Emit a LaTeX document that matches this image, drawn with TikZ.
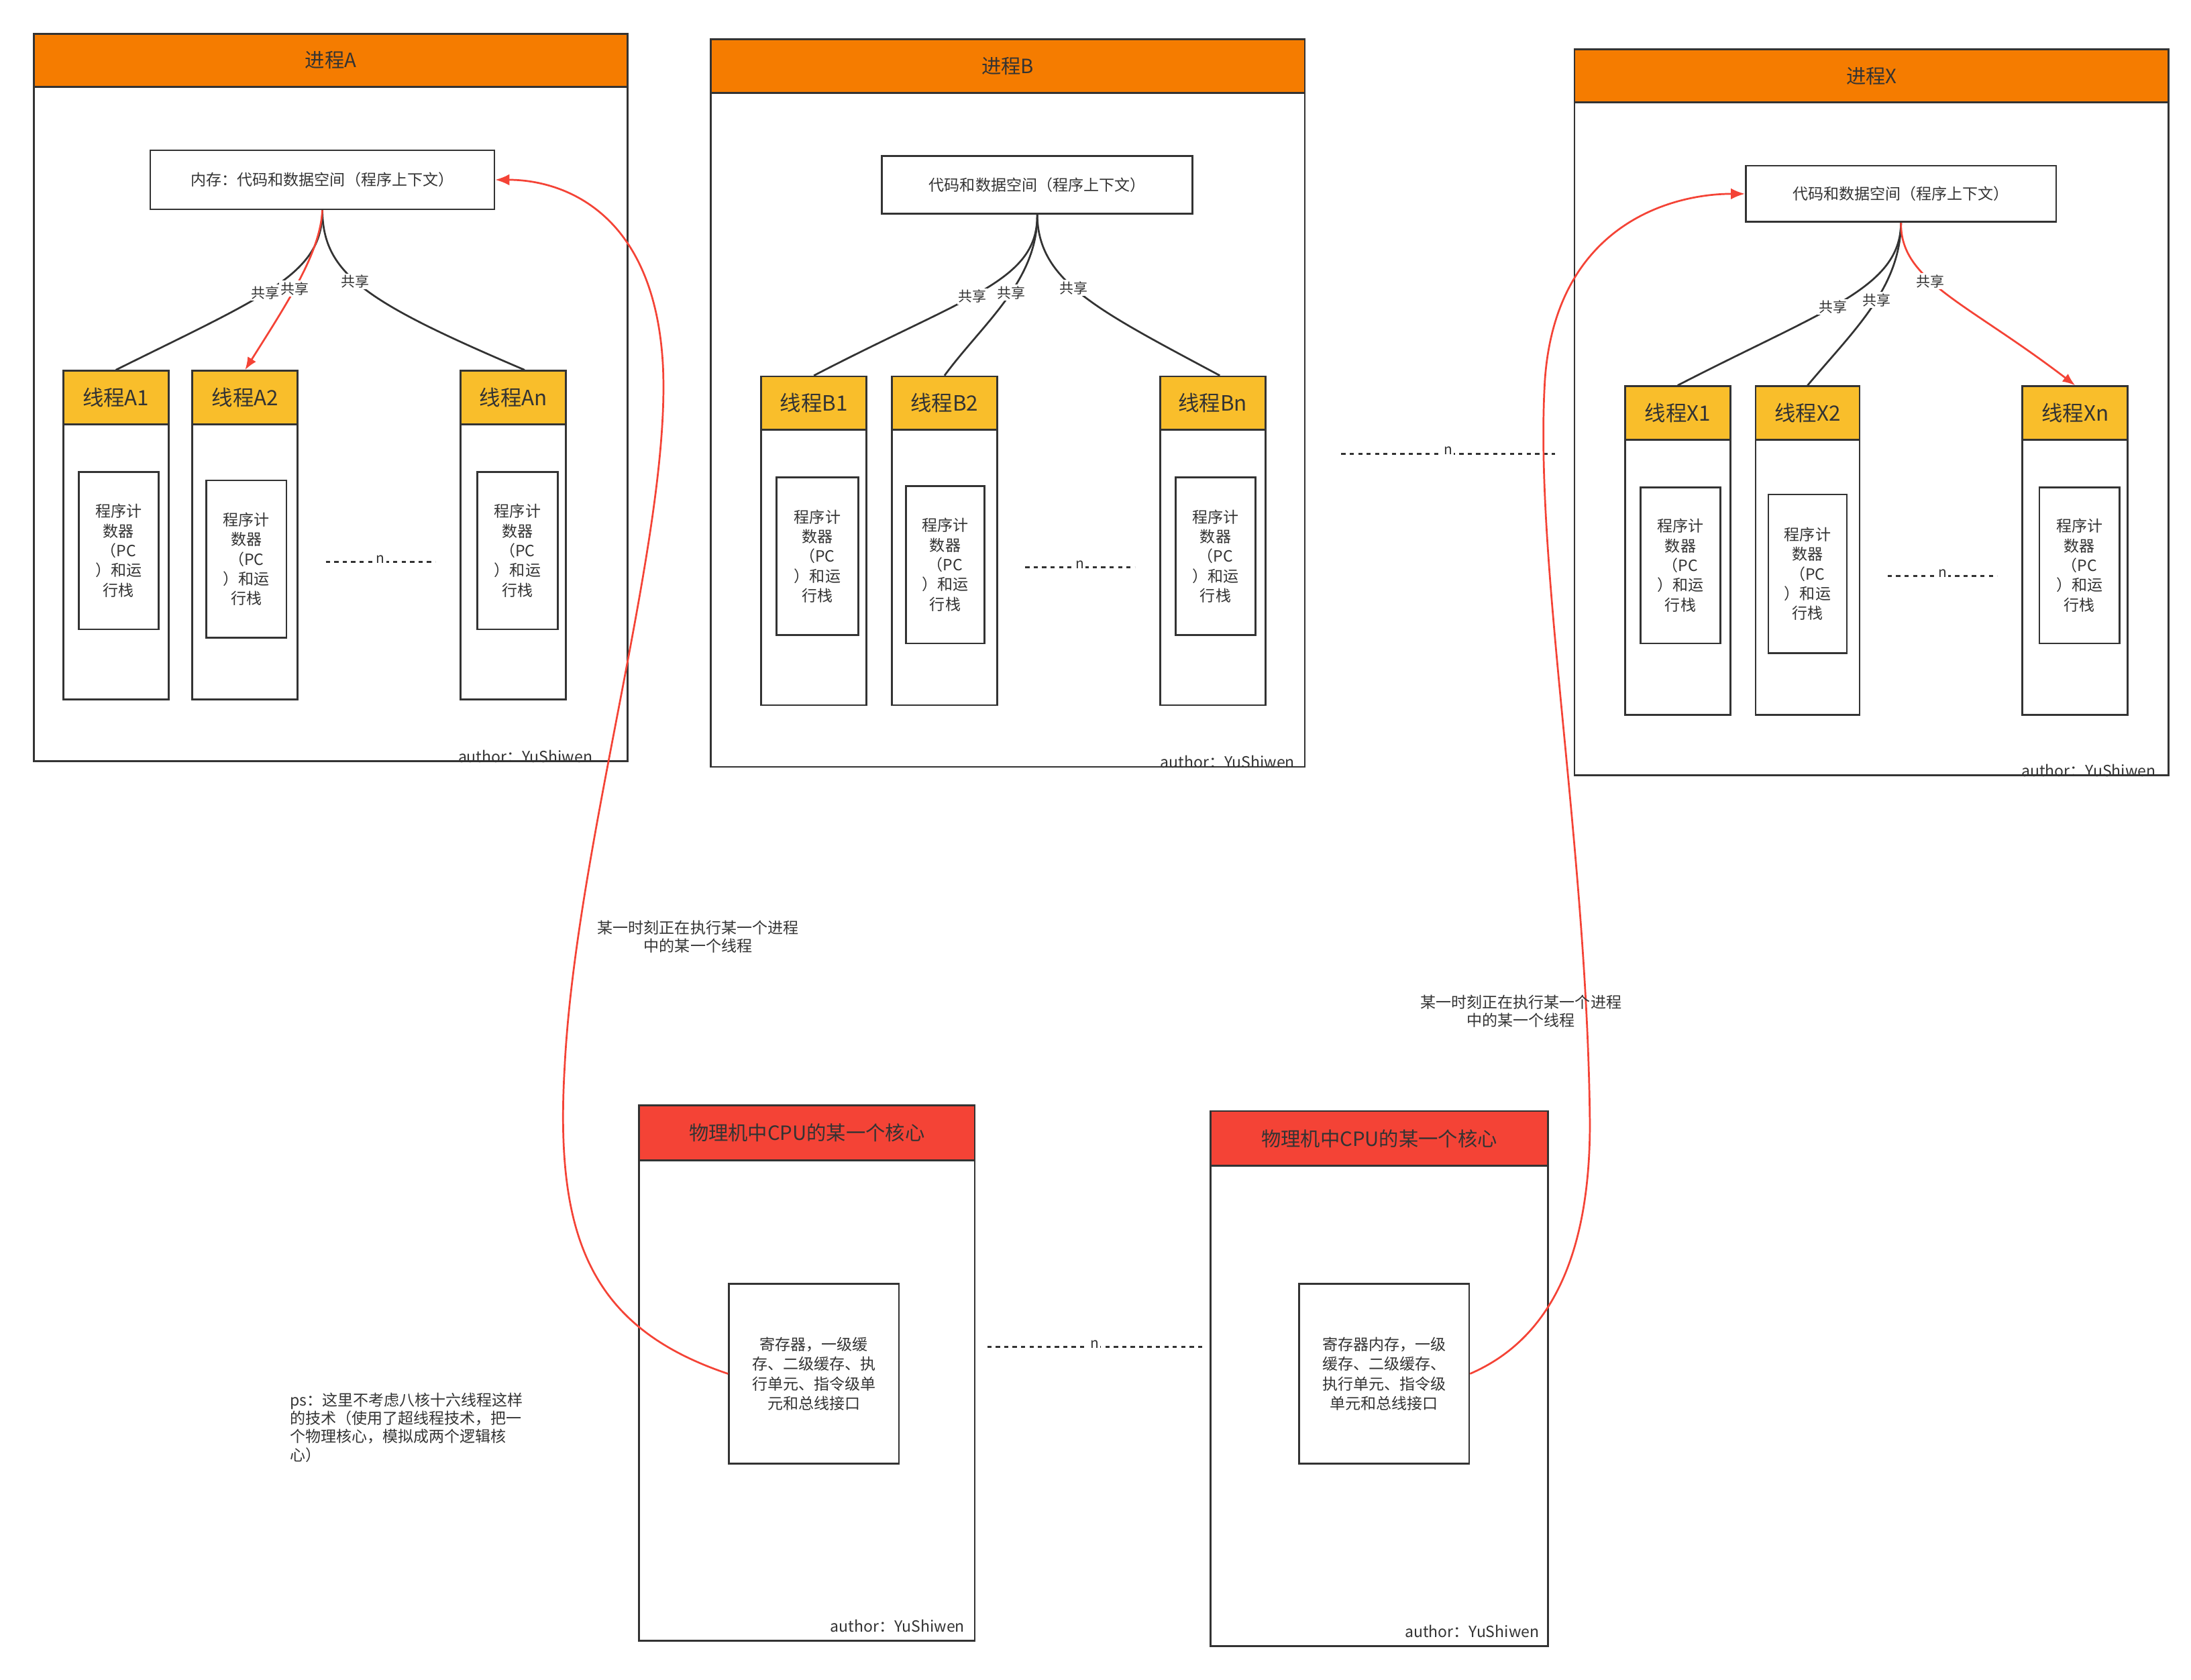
\documentclass[tikz,border=0pt]{standalone}
\usepackage{fontspec}
\setmainfont{Noto Sans CJK SC}
\usetikzlibrary{arrows.meta}
\definecolor{ln}{HTML}{333333}
\definecolor{orng}{HTML}{F57C00}
\definecolor{yel}{HTML}{F9BE2B}
\definecolor{rd}{HTML}{F44336}
\newcommand\bx[7]{\node[#6,minimum width={(#4-#2)*1pt},minimum height={(#5-#3)*1pt}] (#1) at ({(#2+#4)/2},{(#3+#5)/2}) {#7};}
\tikzset{
 base/.style={draw=ln,line width=1.3pt,inner sep=0pt,text=ln},
 body/.style={base,fill=white},
 phead/.style={base,fill=orng,font=\fontsize{14}{16}\selectfont},
 thead/.style={base,fill=yel,font=\fontsize{15}{17}\selectfont},
 chead/.style={base,fill=rd,font=\fontsize{14}{16}\selectfont},
 mem/.style={base,font=\fontsize{11}{13}\selectfont},
 inbox/.style={base,font=\fontsize{11}{14}\selectfont,align=center},
 auth/.style={text=ln,font=\fontsize{11}{13}\selectfont,anchor=south east,inner sep=1pt},
 share/.style={draw=ln,line width=1.3pt},
 redln/.style={draw=rd,line width=1.3pt},
 lbl/.style={fill=white,inner sep=1pt,text=ln,font=\fontsize{10}{12}\selectfont},
 dots/.style={draw=ln,line width=1.3pt,dash pattern=on 3pt off 3pt},
 note/.style={text=ln,font=\fontsize{11}{13}\selectfont,align=center},
}
\begin{document}
\begin{tikzpicture}[x=1pt,y=-1pt]
\useasboundingbox (0,0) rectangle (1560,1196);
% Process A
\bx{pA}{24}{24}{447}{542}{body}{}
\bx{pAh}{24}{24}{447}{62}{phead}{进程A}
\node[auth] (auA) at (423,544) {author：YuShiwen};
\bx{memA}{107}{107}{352}{149}{mem}{内存：代码和数据空间（程序上下文）}
\bx{A1}{45}{264}{120}{498}{body}{}\bx{A1h}{45}{264}{120}{302}{thead}{线程A1}
\bx{A2}{137}{264}{212}{498}{body}{}\bx{A2h}{137}{264}{212}{302}{thead}{线程A2}
\bx{An}{328}{264}{403}{498}{body}{}\bx{Anh}{328}{264}{403}{302}{thead}{线程An}
\bx{iA1}{56}{336}{113}{448}{inbox}{程序计\\数器\\（PC\\）和运\\行栈}
\bx{iA2}{147}{342}{204}{454}{inbox}{程序计\\数器\\（PC\\）和运\\行栈}
\bx{iAn}{340}{336}{397}{448}{inbox}{程序计\\数器\\（PC\\）和运\\行栈}
\coordinate (dA1) at (232,400);\coordinate (dA2) at (310,400);
\draw[dots] (dA1) -- node[lbl,fill=white,yshift=2pt]{n} (dA2);
\draw[share] (memA.south) .. controls (230,195) and (190,210) .. node[lbl,pos=0.55]{共享} (A1h.north);
\draw[share] (memA.south) .. controls (230,195) and (260,215) .. node[lbl,pos=0.45]{共享} ([xshift=8pt]Anh.north);
\draw[redln,-{Latex[length=9pt,width=7pt]}] (memA.south) .. controls (228,180) and (205,215) .. node[lbl,pos=0.55]{共享} (A2h.north);
% Process B
\bx{pB}{506}{28}{929}{546}{body}{}
\bx{pBh}{506}{28}{929}{66}{phead}{进程B}
\node[auth] (auB) at (923,548) {author：YuShiwen};
\bx{memB}{628}{111}{849}{152}{mem}{代码和数据空间（程序上下文）}
\bx{B1}{542}{268}{617}{502}{body}{}\bx{B1h}{542}{268}{617}{306}{thead}{线程B1}
\bx{B2}{635}{268}{710}{502}{body}{}\bx{B2h}{635}{268}{710}{306}{thead}{线程B2}
\bx{Bn}{826}{268}{901}{502}{body}{}\bx{Bnh}{826}{268}{901}{306}{thead}{线程Bn}
\bx{iB1}{553}{340}{611}{452}{inbox}{程序计\\数器\\（PC\\）和运\\行栈}
\bx{iB2}{645}{346}{701}{458}{inbox}{程序计\\数器\\（PC\\）和运\\行栈}
\bx{iBn}{837}{340}{894}{452}{inbox}{程序计\\数器\\（PC\\）和运\\行栈}
\coordinate (dB1) at (730,404);\coordinate (dB2) at (808,404);
\draw[dots] (dB1) -- node[lbl,yshift=2pt]{n} (dB2);
\draw[share] (memB.south) .. controls (739,200) and (690,210) .. node[lbl,pos=0.55]{共享} (B1h.north);
\draw[share] (memB.south) .. controls (739,200) and (700,230) .. node[lbl,pos=0.45]{共享} (B2h.north);
\draw[share] (memB.south) .. controls (739,200) and (780,220) .. node[lbl,pos=0.45]{共享} ([xshift=5pt]Bnh.north);
% Process X
\bx{pX}{1121}{35}{1544}{552}{body}{}
\bx{pXh}{1121}{35}{1544}{73}{phead}{进程X}
\node[auth] (auX) at (1536,554) {author：YuShiwen};
\bx{memX}{1243}{118}{1464}{158}{mem}{代码和数据空间（程序上下文）}
\bx{X1}{1157}{275}{1232}{509}{body}{}\bx{X1h}{1157}{275}{1232}{313}{thead}{线程X1}
\bx{X2}{1250}{275}{1324}{509}{body}{}\bx{X2h}{1250}{275}{1324}{313}{thead}{线程X2}
\bx{Xn}{1440}{275}{1515}{509}{body}{}\bx{Xnh}{1440}{275}{1515}{313}{thead}{线程Xn}
\bx{iX1}{1168}{347}{1225}{458}{inbox}{程序计\\数器\\（PC\\）和运\\行栈}
\bx{iX2}{1259}{352}{1315}{465}{inbox}{程序计\\数器\\（PC\\）和运\\行栈}
\bx{iXn}{1452}{347}{1509}{458}{inbox}{程序计\\数器\\（PC\\）和运\\行栈}
\coordinate (dX1) at (1344,410);\coordinate (dX2) at (1422,410);
\draw[dots] (dX1) -- node[lbl,yshift=2pt]{n} (dX2);
\draw[share] (memX.south) .. controls (1353,205) and (1300,220) .. node[lbl,pos=0.55]{共享} (X1h.north);
\draw[share] (memX.south) .. controls (1353,205) and (1320,235) .. node[lbl,pos=0.45]{共享} (X2h.north);
\draw[redln,-{Latex[length=9pt,width=7pt]}] (memX.south) .. controls (1353,200) and (1400,215) .. node[lbl,pos=0.4]{共享} (Xnh.north);
% between processes
\coordinate (dP1) at (955,323);\coordinate (dP2) at (1107,323);
\draw[dots] (dP1) -- node[lbl,yshift=2pt]{n} (dP2);
% CPU cores
\bx{c1}{455}{787}{694}{1168}{body}{}
\bx{c1h}{455}{787}{694}{826}{chead}{物理机中CPU的某一个核心}
\node[auth] (au1) at (688,1163) {author：YuShiwen};
\bx{ic1}{519}{914}{640}{1042}{inbox}{寄存器，一级缓\\存、二级缓存、执\\行单元、指令级单\\元和总线接口}
\bx{c2}{862}{791}{1102}{1172}{body}{}
\bx{c2h}{862}{791}{1102}{830}{chead}{物理机中CPU的某一个核心}
\node[auth] (au2) at (1097,1167) {author：YuShiwen};
\bx{ic2}{925}{914}{1046}{1042}{inbox}{寄存器内存，一级\\缓存、二级缓存、\\执行单元、指令级\\单元和总线接口}
\coordinate (dC1) at (703,959);\coordinate (dC2) at (856,959);
\draw[dots] (dC1) -- node[lbl,yshift=2pt]{n} (dC2);
% red execution curves
\draw[redln,-{Latex[length=10pt,width=8pt]}] (ic1.west) .. controls (420,945) and (395,880) .. (402,760) .. controls (410,600) and (478,380) .. (472,260) .. controls (466,150) and (400,128) .. (memA.east);
\node[note] (nA) at (497,667) {某一时刻正在执行某一个进程\\中的某一个线程};
\draw[redln,-{Latex[length=10pt,width=8pt]}] (ic2.east) .. controls (1100,955) and (1132,900) .. (1132,800) .. controls (1130,600) and (1092,400) .. (1100,270) .. controls (1108,160) and (1190,138) .. (memX.west);
\node[note,fill=none] (nX) at (1083,720) {某一时刻正在执行某一个进程\\中的某一个线程};
\node[note,align=left,anchor=north west] (ps) at (203,988) {ps：这里不考虑八核十六线程这样\\的技术（使用了超线程技术，把一\\个物理核心，模拟成两个逻辑核\\心）};
\end{tikzpicture}
\end{document}
